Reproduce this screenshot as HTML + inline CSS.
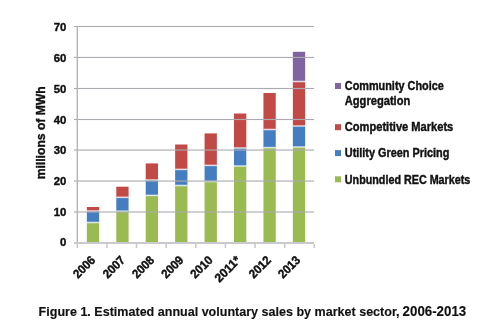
<!DOCTYPE html><html><head><meta charset="utf-8"><style>html,body{margin:0;padding:0;background:#fff;width:500px;height:333px;overflow:hidden}svg{display:block;will-change:transform}text{font-family:"Liberation Sans",sans-serif;font-weight:bold;fill:#111;stroke:#111;stroke-width:0.4px}</style></head><body>
<svg width="500" height="333" viewBox="0 0 500 333">
<rect width="500" height="333" fill="#fff"/>
<rect x="86.85" y="222.50" width="12.30" height="20.25" fill="#9aba52"/>
<rect x="86.85" y="211.00" width="12.30" height="11.50" fill="#447dc0"/>
<rect x="86.85" y="207.00" width="12.30" height="4.00" fill="#c24a46"/>
<rect x="86.85" y="221.70" width="12.30" height="1.6" fill="#fff" fill-opacity="0.7"/>
<rect x="86.85" y="210.20" width="12.30" height="1.6" fill="#fff" fill-opacity="0.7"/>
<rect x="116.28" y="211.20" width="12.30" height="31.55" fill="#9aba52"/>
<rect x="116.28" y="197.30" width="12.30" height="13.90" fill="#447dc0"/>
<rect x="116.28" y="186.70" width="12.30" height="10.60" fill="#c24a46"/>
<rect x="116.28" y="210.40" width="12.30" height="1.6" fill="#fff" fill-opacity="0.7"/>
<rect x="116.28" y="196.50" width="12.30" height="1.6" fill="#fff" fill-opacity="0.7"/>
<rect x="145.71" y="195.40" width="12.30" height="47.35" fill="#9aba52"/>
<rect x="145.71" y="180.00" width="12.30" height="15.40" fill="#447dc0"/>
<rect x="145.71" y="163.40" width="12.30" height="16.60" fill="#c24a46"/>
<rect x="145.71" y="194.60" width="12.30" height="1.6" fill="#fff" fill-opacity="0.7"/>
<rect x="145.71" y="179.20" width="12.30" height="1.6" fill="#fff" fill-opacity="0.7"/>
<rect x="175.14" y="185.50" width="12.30" height="57.25" fill="#9aba52"/>
<rect x="175.14" y="169.40" width="12.30" height="16.10" fill="#447dc0"/>
<rect x="175.14" y="144.50" width="12.30" height="24.90" fill="#c24a46"/>
<rect x="175.14" y="184.70" width="12.30" height="1.6" fill="#fff" fill-opacity="0.7"/>
<rect x="175.14" y="168.60" width="12.30" height="1.6" fill="#fff" fill-opacity="0.7"/>
<rect x="204.57" y="181.50" width="12.30" height="61.25" fill="#9aba52"/>
<rect x="204.57" y="165.40" width="12.30" height="16.10" fill="#447dc0"/>
<rect x="204.57" y="133.40" width="12.30" height="32.00" fill="#c24a46"/>
<rect x="204.57" y="180.70" width="12.30" height="1.6" fill="#fff" fill-opacity="0.7"/>
<rect x="204.57" y="164.60" width="12.30" height="1.6" fill="#fff" fill-opacity="0.7"/>
<rect x="234.00" y="166.00" width="12.30" height="76.75" fill="#9aba52"/>
<rect x="234.00" y="148.00" width="12.30" height="18.00" fill="#447dc0"/>
<rect x="234.00" y="113.50" width="12.30" height="34.50" fill="#c24a46"/>
<rect x="234.00" y="165.20" width="12.30" height="1.6" fill="#fff" fill-opacity="0.7"/>
<rect x="234.00" y="147.20" width="12.30" height="1.6" fill="#fff" fill-opacity="0.7"/>
<rect x="263.43" y="147.60" width="12.30" height="95.15" fill="#9aba52"/>
<rect x="263.43" y="129.50" width="12.30" height="18.10" fill="#447dc0"/>
<rect x="263.43" y="93.00" width="12.30" height="36.50" fill="#c24a46"/>
<rect x="263.43" y="146.80" width="12.30" height="1.6" fill="#fff" fill-opacity="0.7"/>
<rect x="263.43" y="128.70" width="12.30" height="1.6" fill="#fff" fill-opacity="0.7"/>
<rect x="292.86" y="147.00" width="12.30" height="95.75" fill="#9aba52"/>
<rect x="292.86" y="126.00" width="12.30" height="21.00" fill="#447dc0"/>
<rect x="292.86" y="81.50" width="12.30" height="44.50" fill="#c24a46"/>
<rect x="292.86" y="51.80" width="12.30" height="29.70" fill="#8064a2"/>
<rect x="292.86" y="146.20" width="12.30" height="1.6" fill="#fff" fill-opacity="0.7"/>
<rect x="292.86" y="125.20" width="12.30" height="1.6" fill="#fff" fill-opacity="0.7"/>
<rect x="292.86" y="80.70" width="12.30" height="1.6" fill="#fff" fill-opacity="0.7"/>
<rect x="74" y="211.45" width="240" height="1.1" fill="#aaaab0"/>
<rect x="74" y="180.50" width="240" height="1.1" fill="#aaaab0"/>
<rect x="74" y="149.50" width="240" height="1.1" fill="#aaaab0"/>
<rect x="74" y="118.95" width="240" height="1.1" fill="#aaaab0"/>
<rect x="74" y="87.95" width="240" height="1.1" fill="#aaaab0"/>
<rect x="74" y="56.90" width="240" height="1.1" fill="#aaaab0"/>
<rect x="74" y="25.95" width="240" height="1.1" fill="#aaaab0"/>
<rect x="76.6" y="26" width="1.4" height="217" fill="#b3b4ba"/>
<rect x="74" y="242" width="240" height="2" fill="#cacace"/>
<rect x="76.50" y="244" width="1.6" height="4" fill="#cacace"/>
<rect x="106.12" y="244" width="1.6" height="4" fill="#cacace"/>
<rect x="135.75" y="244" width="1.6" height="4" fill="#cacace"/>
<rect x="165.38" y="244" width="1.6" height="4" fill="#cacace"/>
<rect x="195.00" y="244" width="1.6" height="4" fill="#cacace"/>
<rect x="224.62" y="244" width="1.6" height="4" fill="#cacace"/>
<rect x="254.25" y="244" width="1.6" height="4" fill="#cacace"/>
<rect x="283.88" y="244" width="1.6" height="4" fill="#cacace"/>
<rect x="313.50" y="244" width="1.6" height="4" fill="#cacace"/>
<text x="66.3" y="246.15" text-anchor="end" font-size="11" textLength="6.3" lengthAdjust="spacingAndGlyphs">0</text>
<text x="66.3" y="216.17" text-anchor="end" font-size="11" textLength="12.6" lengthAdjust="spacingAndGlyphs">10</text>
<text x="66.3" y="185.29" text-anchor="end" font-size="11" textLength="12.6" lengthAdjust="spacingAndGlyphs">20</text>
<text x="66.3" y="154.41" text-anchor="end" font-size="11" textLength="12.6" lengthAdjust="spacingAndGlyphs">30</text>
<text x="66.3" y="123.53" text-anchor="end" font-size="11" textLength="12.6" lengthAdjust="spacingAndGlyphs">40</text>
<text x="66.3" y="92.65" text-anchor="end" font-size="11" textLength="12.6" lengthAdjust="spacingAndGlyphs">50</text>
<text x="66.3" y="61.77" text-anchor="end" font-size="11" textLength="12.6" lengthAdjust="spacingAndGlyphs">60</text>
<text x="66.3" y="30.89" text-anchor="end" font-size="11" textLength="12.6" lengthAdjust="spacingAndGlyphs">70</text>
<text transform="translate(44.6,132.8) rotate(-90)" text-anchor="middle" font-size="13.6" textLength="93" lengthAdjust="spacingAndGlyphs">millions of MWh</text>
<text transform="translate(96.10,261) rotate(-45)" text-anchor="end" font-size="12.2" textLength="25.6" lengthAdjust="spacingAndGlyphs">2006</text>
<text transform="translate(125.81,261) rotate(-45)" text-anchor="end" font-size="12.2" textLength="25.6" lengthAdjust="spacingAndGlyphs">2007</text>
<text transform="translate(155.02,261) rotate(-45)" text-anchor="end" font-size="12.2" textLength="25.6" lengthAdjust="spacingAndGlyphs">2008</text>
<text transform="translate(184.23,261) rotate(-45)" text-anchor="end" font-size="12.2" textLength="25.6" lengthAdjust="spacingAndGlyphs">2009</text>
<text transform="translate(213.44,261) rotate(-45)" text-anchor="end" font-size="12.2" textLength="25.6" lengthAdjust="spacingAndGlyphs">2010</text>
<text transform="translate(241.45,261) rotate(-45)" text-anchor="end" font-size="12.2" textLength="31" lengthAdjust="spacingAndGlyphs">2011*</text>
<text transform="translate(271.86,261) rotate(-45)" text-anchor="end" font-size="12.2" textLength="25.6" lengthAdjust="spacingAndGlyphs">2012</text>
<text transform="translate(301.07,261) rotate(-45)" text-anchor="end" font-size="12.2" textLength="25.6" lengthAdjust="spacingAndGlyphs">2013</text>
<rect x="335" y="83.0" width="6" height="6" fill="#8064a2"/>
<rect x="335" y="124.2" width="6" height="6" fill="#c24a46"/>
<rect x="335" y="150.1" width="6" height="6" fill="#447dc0"/>
<rect x="335" y="176.3" width="6" height="6" fill="#9aba52"/>
<text x="344.8" y="90.0" font-size="12" textLength="99" lengthAdjust="spacingAndGlyphs">Community Choice</text>
<text x="344.8" y="104.8" font-size="12" textLength="65.5" lengthAdjust="spacingAndGlyphs">Aggregation</text>
<text x="344.8" y="131.0" font-size="12" textLength="108.5" lengthAdjust="spacingAndGlyphs">Competitive Markets</text>
<text x="344.8" y="156.9" font-size="12" textLength="104.5" lengthAdjust="spacingAndGlyphs">Utility Green Pricing</text>
<text x="344.8" y="183.5" font-size="12" textLength="125.5" lengthAdjust="spacingAndGlyphs">Unbundled REC Markets</text>
<text x="38.6" y="315.7" font-size="13" style="stroke-width:0.15px" textLength="361" lengthAdjust="spacingAndGlyphs">Figure 1. Estimated annual voluntary sales by market sector,</text>
<text x="402.6" y="315.6" font-size="14.3" style="stroke-width:0.15px" textLength="63.6" lengthAdjust="spacingAndGlyphs">2006-2013</text>
</svg></body></html>
